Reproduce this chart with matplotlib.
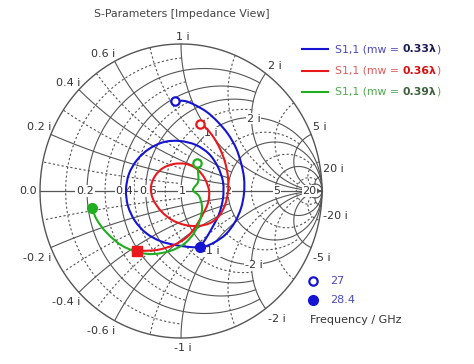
import numpy as np
import matplotlib.pyplot as plt
from matplotlib.path import Path
from matplotlib.patches import PathPatch

plt.rcParams['font.family'] = ['DejaVu Sans']

# S1,1 traces (real / imag of the reflection coefficient), 27 -> 28.4 GHz
blue_re = [-0.043, 0.028, 0.099, 0.184, 0.262, 0.333, 0.390, 0.426, 0.447, 0.447,
           0.426, 0.383, 0.319, 0.241, 0.156, 0.064, -0.043, -0.149, -0.248, -0.326,
           -0.376, -0.390, -0.369, -0.312, -0.227, -0.121, -0.007, 0.106, 0.199, 0.262,
           0.298, 0.298, 0.270, 0.220, 0.170, 0.135]
blue_im = [0.612, 0.612, 0.585, 0.537, 0.469, 0.388, 0.293, 0.190, 0.088, -0.014,
           -0.116, -0.211, -0.293, -0.347, -0.381, -0.381, -0.367, -0.340, -0.286, -0.204,
           -0.102, 0.007, 0.116, 0.211, 0.286, 0.333, 0.340, 0.313, 0.252, 0.163,
           0.061, -0.048, -0.156, -0.252, -0.333, -0.381]

red_re = [0.135, 0.184, 0.234, 0.277, 0.312, 0.333, 0.333, 0.312, 0.270, 0.206,
          0.121, 0.028, -0.064, -0.142, -0.199, -0.213, -0.184, -0.128, -0.050, 0.035,
          0.113, 0.170, 0.199, 0.191, 0.156, 0.106, 0.043, -0.050, -0.170, -0.312]
red_im = [0.456, 0.422, 0.361, 0.286, 0.197, 0.095, -0.007, -0.095, -0.170, -0.218,
          -0.238, -0.231, -0.197, -0.136, -0.054, 0.027, 0.102, 0.156, 0.184, 0.184,
          0.150, 0.082, 0.000, -0.082, -0.156, -0.238, -0.313, -0.367, -0.401, -0.408]

green_re = [0.113, 0.121, 0.121, 0.085, 0.128, 0.149, 0.135, 0.092, 0.021, -0.078,
            -0.199, -0.312, -0.426, -0.525, -0.596, -0.631]
green_im = [0.190, 0.129, 0.061, 0.007, -0.034, -0.109, -0.197, -0.286, -0.361, -0.408,
            -0.429, -0.415, -0.367, -0.286, -0.197, -0.116]

series = [
    ('0.33\u03bb', blue_re, blue_im, '#1414d2', '#4a4ab8', '#1c1c55', 'o'),
    ('0.36\u03bb', red_re, red_im, '#e8181c', '#e05a5a', '#d81010', 's'),
    ('0.39\u03bb', green_re, green_im, '#1fae1f', '#4fa84f', '#3f5f3f', 'o'),
]
freqs = ['27', '28.4']

# grid: (value, solid?, limit of the other coordinate)
r_grid = [(0.1, False, 1), (0.2, True, 2), (0.3, False, 1), (0.4, True, 2), (0.5, False, 1),
          (0.6, True, 2), (0.8, False, 2), (1, True, np.inf), (1.5, False, 5),
          (2, True, np.inf), (3, False, 10), (5, True, np.inf), (10, False, 20),
          (20, True, np.inf)]
x_grid = r_grid
r_labels = ['0.2', '0.4', '0.6', '1', '2', '5', '20']
x_labels = [0.2, 0.4, 0.6, 1, 2, 5, 20]


def smooth_path(xs, ys):
    # Catmull-Rom through the read points, drawn as cubic Bezier segments
    p = np.column_stack([xs, ys])
    p_ext = np.vstack([p[0], p, p[-1]])
    verts = [p[0]]
    codes = [Path.MOVETO]
    for i in range(1, len(p_ext) - 2):
        p0, p1, p2, p3 = p_ext[i - 1], p_ext[i], p_ext[i + 1], p_ext[i + 2]
        verts += [p1 + (p2 - p0) / 6, p2 - (p3 - p1) / 6, p2]
        codes += [Path.CURVE4] * 3
    return Path(verts, codes)


W, H = 474, 364
fig = plt.figure(figsize=(W / 100, H / 100), dpi=100)
ax = fig.add_axes([4.75 / W, 3.95 / H, 352.5 / W, 338.1 / H])
ax.set_xlim(-1.25, 1.25)
ax.set_ylim(-1.15, 1.15)
ax.axis('off')

gcol = '#555555'
t = np.linspace(0, 2 * np.pi, 4000)
with np.errstate(divide='ignore', invalid='ignore'):
    for r, solid, xmax in r_grid:
        g = r / (1 + r) + np.exp(1j * t) / (1 + r)
        z = (1 + g) / (1 - g)
        g = np.where(np.abs(z.imag) <= xmax, g, np.nan)
        ax.plot(g.real, g.imag, color=gcol, lw=0.8,
                ls='-' if solid else (0, (2, 2)))
    for xv, solid, rmax in x_grid:
        for s in (1, -1):
            x = s * xv
            g = 1 + 1j / x + np.exp(1j * t) / xv
            z = (1 + g) / (1 - g)
            ok = (np.abs(g) <= 1.0005) & (z.real <= rmax)
            g = np.where(ok, g, np.nan)
            ax.plot(g.real, g.imag, color=gcol, lw=0.8,
                    ls='-' if solid else (0, (2, 2)))
ax.plot(np.cos(t), np.sin(t), color=gcol, lw=1.0)
ax.plot([-1, 1], [0, 0], color=gcol, lw=0.9)

lab = dict(fontsize=8, color='#333333')
white = dict(facecolor='white', edgecolor='none', pad=0.6)

# real axis labels
ax.annotate('0.0', (-1, 0), xytext=(-3, 0), textcoords='offset pixels',
            ha='right', va='center', **lab)
r_dx = [-2, 4, 2, 1, 0, 2, 1]
for txt, dx in zip(r_labels, r_dx):
    r = float(txt)
    ax.annotate(txt, ((r - 1) / (r + 1), 0), xytext=(dx, 0), textcoords='offset pixels',
                ha='center', va='center', bbox=white, **lab)

# reactance labels on the rim
for xv in x_labels:
    for s in (1, -1):
        g = (1j * s * xv - 1) / (1j * s * xv + 1)
        name = ('%g i' % (s * xv))
        if xv == 1:
            ha, dx = 'center', 2
        elif g.real < 0:
            ha, dx = 'right', 1
        else:
            ha, dx = 'left', 2
        dy = 7 if s > 0 else -10
        ax.annotate(name, (g.real, g.imag), xytext=(dx, dy), textcoords='offset pixels',
                    ha=ha, va='center', **lab)

# reactance labels on the r = 1 circle
for xv in (1, 2, -1, -2):
    g = (1 + 1j * xv - 1) / (1 + 1j * xv + 1)
    ax.annotate('%g i' % xv, (g.real, g.imag), xytext=(2, -1), textcoords='offset pixels',
                ha='center', va='center', bbox=white, **lab)

for val, re, im, col, tcol, bcol, mk in series:
    ax.add_patch(PathPatch(smooth_path(re, im), fill=False, edgecolor=col, lw=1.5,
                           zorder=5))
    ax.plot(re[0], im[0], 'o', ms=6, mfc='white', mec=col, mew=1.6, zorder=6)
    ax.plot(re[-1], im[-1], mk, ms=7, color=col, zorder=6)

# overlay in pixel units for title and legends
ov = fig.add_axes([0, 0, 1, 1])
ov.set_xlim(0, W)
ov.set_ylim(H, 0)
ov.axis('off')
ov.text(182, 14, 'S-Parameters [Impedance View]', fontsize=7.8, color='#444444',
        ha='center', va='center')

for i, (val, re, im, col, tcol, bcol, mk) in enumerate(series):
    y = 49 + i * 21.5
    ov.plot([302, 328], [y, y], color=col, lw=1.5)
    t1 = ov.text(335, y, 'S1,1 (mw = ', fontsize=7.8, color=tcol, va='center')
    t2 = ov.annotate(val, xy=(1, 0), xycoords=t1, va='bottom', fontsize=7.8,
                     fontweight='bold', color=bcol)
    ov.annotate(')', xy=(1, 0), xycoords=t2, va='bottom', fontsize=7.8, color=tcol)

ov.plot(313, 281, 'o', ms=6, mfc='white', mec='#1414d2', mew=1.6)
ov.plot(313, 300, 'o', ms=7, color='#1414d2')
ov.text(330, 281, freqs[0], fontsize=8, color='#4a4ab8', va='center')
ov.text(330, 300, freqs[1], fontsize=8, color='#4a4ab8', va='center')
ov.text(310, 320, 'Frequency / GHz', fontsize=8, color='#333333', va='center')

fig.savefig('out.png', dpi=100)
